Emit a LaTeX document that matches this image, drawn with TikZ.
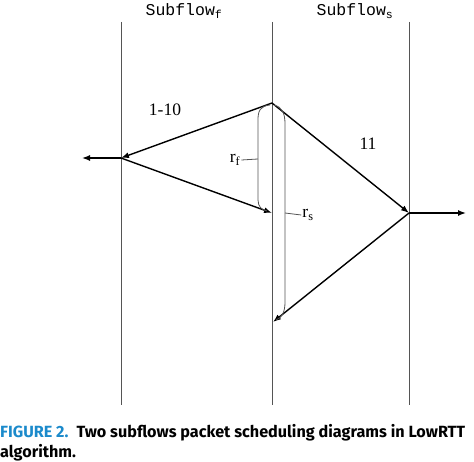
\documentclass[tikz,border=0pt]{standalone}
\usepackage{fontspec}
\setmainfont{Liberation Serif}
\newfontfamily\capfont{Fira Sans}
\newfontfamily\labfont{Liberation Mono}
\usetikzlibrary{arrows.meta,positioning}
\definecolor{capblue}{HTML}{1B8ACB}
\definecolor{flowline}{HTML}{555555}

\begin{document}
\begin{tikzpicture}[x=1pt,y=-1pt,
    flow/.style={draw=flowline,line width=0.9pt},
    pkt/.style={line width=1.4pt,-{Latex[length=8pt,width=6pt]}},
    brace/.style={draw=flowline,line width=0.8pt},
    lab/.style={inner sep=1pt,font=\fontsize{17.5}{18}\selectfont}]
        \useasboundingbox (0,0) rectangle (474,462);
        \path
        % flows
        (121,22) coordinate(fT)
        (121,405) coordinate(fB)
        (272,22) coordinate(mT)
        (272,405) coordinate(mB)
        (409,22) coordinate(sT)
        (409,405) coordinate(sB)
        (184,11) node[lab] (subf) {\labfont\fontsize{16.5}{17}\selectfont Subflow\textsubscript{f}}
        (355,11) node[lab] (subs) {\labfont\fontsize{16.5}{17}\selectfont Subflow\textsubscript{s}}

        % packets
        (272,103) coordinate(send)
        (121,158) coordinate(ackf)
        (82,158) coordinate(outf)
        (272,213) coordinate(recvf)
        (409,213) coordinate(acks)
        (466,213) coordinate(outs)
        (273,322) coordinate(recvs)

        (165,110) node[lab] (lf) {1-10}
        (368,144) node[lab] (ls) {11}
        (235,160) node[lab] (rf) {r\textsubscript{f}}
        (308,215) node[lab] (rs) {r\textsubscript{s}}
        ;

        \draw[flow] (fT) -- (fB);
        \draw[flow] (mT) -- (mB);
        \draw[flow] (sT) -- (sB);

        \draw[pkt] (send) -- (ackf);
        \draw[pkt] (ackf) -- (recvf);
        \draw[pkt] (ackf) -- (outf);
        \draw[pkt] (send) -- (acks);
        \draw[pkt] (acks) -- (outs);
        \draw[pkt] (acks) -- (recvs);

        % braces
        \draw[brace] (270,105) .. controls (260,106) and (258,111) .. (258,120)
          -- (258,200) .. controls (258,207) and (262,210) .. (267,211);
        \draw[brace] (258,159) -- (rf.east);
        \draw[brace] (274,105) .. controls (282,107) and (285,113) .. (285,124)
          -- (285,302) .. controls (285,312) and (282,318) .. (276,320);
        \draw[brace] (285,213) -- (rs.west);

        % caption
        \node[anchor=north west,inner sep=0pt,align=left,
          font=\capfont\bfseries\fontsize{16.2}{20}\selectfont] (cap) at (0,424)
          {\textcolor{capblue}{FIGURE 2.}\enspace Two subflows packet scheduling diagrams in LowRTT\\algorithm.};
\end{tikzpicture}
\end{document}
